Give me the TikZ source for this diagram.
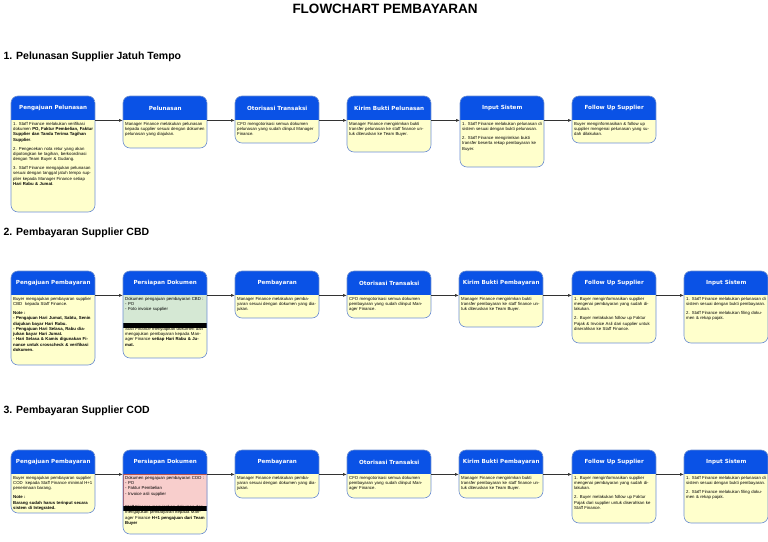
\documentclass[tikz,border=0pt]{standalone}
\usepackage{fontspec}
\setmainfont{Liberation Sans}
\newfontfamily\hdfont{DejaVu Sans}
\usetikzlibrary{arrows.meta}
\definecolor{hdblue}{RGB}{10,82,230}
\definecolor{bodyyel}{RGB}{255,255,204}
\definecolor{bordblue}{RGB}{108,142,210}
\definecolor{grn}{RGB}{213,232,212}
\definecolor{pnk}{RGB}{248,206,204}
\definecolor{pnkb}{RGB}{184,84,80}
\tikzset{
  hdr/.style={anchor=north west,minimum width=84pt,minimum height=24pt,inner sep=0pt,text=white,font=\hdfont\bfseries\fontsize{5.6}{6.5}\selectfont},
  bodytxt/.style={anchor=north west,text width=80pt,inner sep=0pt,align=left,font=\fontsize{4.3}{5.3}\selectfont},
  flow/.style={draw=black!80,line width=0.7pt,-{Latex[length=4pt,width=3pt]}},
  sect/.style={anchor=west,font=\bfseries\fontsize{10.5}{12}\selectfont}
}
\newcommand\pgap{\par\vspace{3.5pt}}
% #1 name, #2 x, #3 ytop, #4 ybot, #5 title, #6 body, #7 extra fills
\newcommand\stagebox[7]{%
  \begin{scope}
    \clip[rounded corners=7pt] (#2,#3) rectangle (#2+84,#4);
    \fill[bodyyel] (#2,#3) rectangle (#2+84,#4);
    \fill[hdblue] (#2,#3) rectangle (#2+84,#3+24);
    #7
  \end{scope}
  \draw[bordblue,line width=0.6pt,rounded corners=7pt] (#2,#3) rectangle (#2+84,#4);
  \node[hdr] (#1) at (#2,#3) {#5};
  \node[bodytxt] (#1b) at (#2+2,#3+26) {#6};
}
\begin{document}
\begin{tikzpicture}[x=1pt,y=-1pt]
\useasboundingbox (0,0) rectangle (768,541);
\node[font=\bfseries\fontsize{13.5}{15}\selectfont] (title) at (385,9) {FLOWCHART PEMBAYARAN};
\node[sect] (s1) at (0,57) {1. Pelunasan Supplier Jatuh Tempo};
\node[sect] (s2) at (0,233) {2. Pembayaran Supplier CBD};
\node[sect] (s3) at (0,411) {3. Pembayaran Supplier COD};

% Section 1
\stagebox{a1}{11}{96}{212}{Pengajuan Pelunasan}{1. Staff Finance melakukan verifikasi dokumen \textbf{PO, Faktur Pembelian, Faktur Supplier dan Tanda Terima Tagihan Supplier}.\pgap 2. Pengecekan nota retur yang akan dipotongkan ke tagihan, berkoordinasi dengan Team Buyer \& Gudang.\pgap 3. Staff Finance mengajukan pelunasan sesuai dengan tanggal jatuh tempo supplier kepada Manager Finance setiap \textbf{Hari Rabu \& Jumat}.}{}
\stagebox{a2}{123}{96}{148}{Pelunasan}{Manager Finance melakukan pelunasan kepada supplier sesuai dengan dokumen pelunasan yang diajukan.}{}
\stagebox{a3}{235}{96}{143}{Otorisasi Transaksi}{CFO mengotorisasi semua dokumen pelunasan yang sudah diinput Manager Finance.}{}
\stagebox{a4}{347}{96}{152}{Kirim Bukti Pelunasan}{Manager Finance mengirimkan bukti transfer pelunasan ke staff finance untuk diteruskan ke Team Buyer.}{}
\stagebox{a5}{460}{96}{167}{Input Sistem}{1. Staff Finance melakukan pelunasan di sistem sesuai dengan bukti pelunasan.\pgap 2. Staff Finance mengirimkan bukti transfer beserta rekap pembayaran ke Buyer.}{}
\stagebox{a6}{572}{96}{143}{Follow Up Supplier}{Buyer menginformasikan \& follow up supplier mengenai pelunasan yang sudah dilakukan.}{}
\foreach \p/\q in {a1/a2,a2/a3,a3/a4,a4/a5,a5/a6} \draw[flow] (\p.south east) -- (\q.south west);

% Section 2
\stagebox{b1}{11}{271}{365}{Pengajuan Pembayaran}{Buyer mengajukan pembayaran supplier CBD\ \ kepada Staff Finance.\pgap \textbf{Note :}\\ \textbf{- Pengajuan Hari Jumat, Sabtu, Senin diajukan bayar Hari Rabu.}\\ \textbf{- Pengajuan Hari Selasa, Rabu diajukan bayar Hari Jumat.}\\ \textbf{- Hari Selasa \& Kamis digunakan Finance untuk crosscheck \& verifikasi dokumen.}}{}
\stagebox{b2}{123}{271}{358}{Persiapan Dokumen}{Dokumen pengajuan pembayaran CBD :\\- PO\\- Foto invoice supplier\par\vspace{14pt} Staff Finance menyiapkan dokumen dan mengajukan pembayaran kepada Manager Finance \textbf{setiap Hari Rabu \& Jumat.}}{\fill[grn] (123,295) rectangle (207,323); \fill[black] (123,323) rectangle (207,328);}
\stagebox{b3}{235}{271}{318}{Pembayaran}{Manager Finance melakukan pembayaran sesuai dengan dokumen yang diajukan.}{}
\stagebox{b4}{347}{271}{318}{Otorisasi Transaksi}{CFO mengotorisasi semua dokumen pembayaran yang sudah diinput Manager Finance.}{}
\stagebox{b5}{459}{271}{327}{Kirim Bukti Pembayaran}{Manager Finance mengirimkan bukti transfer pembayaran ke staff finance untuk diteruskan ke Team Buyer.}{}
\stagebox{b6}{572}{271}{343}{Follow Up Supplier}{1. Buyer menginformasikan supplier mengenai pembayaran yang sudah dilakukan.\pgap 2. Buyer melakukan follow up Faktur Pajak \& Invoice Asli dari supplier untuk diserahkan ke Staff Finance.}{}
\stagebox{b7}{684}{271}{343}{Input Sistem}{1. Staff Finance melakukan pelunasan di sistem sesuai dengan bukti pembayaran.\pgap 2. Staff Finance melakukan filing dokumen \& rekap pajak.}{}
\foreach \p/\q in {b1/b2,b2/b3,b3/b4,b4/b5,b5/b6,b6/b7} \draw[flow] (\p.south east) -- (\q.south west);

% Section 3
\stagebox{c1}{11}{450}{513}{Pengajuan Pembayaran}{Buyer mengajukan pembayaran supplier COD\ \ kepada Staff Finance minimal H+1 penerimaan barang.\pgap \textbf{Note :}\\ \textbf{Barang sudah harus terinput secara sistem di Integrated.}}{}
\stagebox{c2}{123}{450}{534}{Persiapan Dokumen}{Dokumen pengajuan pembayaran COD :\\- PO\\- Faktur Pembelian\\- Invoice asli supplier\par\vspace{8pt} Staff Finance menyiapkan dokumen dan mengajukan pembayaran kepada Manager Finance \textbf{H+1 pengajuan dari Team Buyer}}{\fill[pnk] (123,474) rectangle (207,506); \draw[pnkb,line width=0.6pt] (123,474) rectangle (207,506); \fill[black] (123,506) rectangle (207,511);}
\stagebox{c3}{235}{450}{498}{Pembayaran}{Manager Finance melakukan pembayaran sesuai dengan dokumen yang diajukan.}{}
\stagebox{c4}{347}{450}{498}{Otorisasi Transaksi}{CFO mengotorisasi semua dokumen pembayaran yang sudah diinput Manager Finance.}{}
\stagebox{c5}{459}{450}{498}{Kirim Bukti Pembayaran}{Manager Finance mengirimkan bukti transfer pembayaran ke staff finance untuk diteruskan ke Team Buyer.}{}
\stagebox{c6}{572}{450}{523}{Follow Up Supplier}{1. Buyer menginformasikan supplier mengenai pembayaran yang sudah dilakukan.\pgap 2. Buyer melakukan follow up Faktur Pajak dari supplier untuk diserahkan ke Staff Finance.}{}
\stagebox{c7}{684}{450}{523}{Input Sistem}{1. Staff Finance melakukan pelunasan di sistem sesuai dengan bukti pembayaran.\pgap 2. Staff Finance melakukan filing dokumen \& rekap pajak.}{}
\foreach \p/\q in {c1/c2,c2/c3,c3/c4,c4/c5,c5/c6,c6/c7} \draw[flow] (\p.south east) -- (\q.south west);
\end{tikzpicture}
\end{document}
